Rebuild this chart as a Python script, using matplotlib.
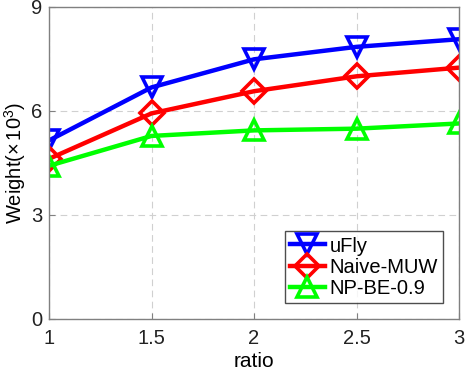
import matplotlib
matplotlib.use("Agg")
import matplotlib.pyplot as plt

ratio = [1, 1.5, 2, 2.5, 3]
ufly = [5.15, 6.68, 7.49, 7.85, 8.07]
naive_muw = [4.62, 5.93, 6.57, 7.0, 7.25]
np_be = [4.42, 5.28, 5.44, 5.49, 5.64]
xticks = [1, 1.5, 2, 2.5, 3]
xticklabels = ["1", "1.5", "2", "2.5", "3"]
yticks = [0, 3, 6, 9]

plt.rcParams['font.family'] = ['Liberation Sans', 'DejaVu Sans']
plt.rcParams['mathtext.fontset'] = 'custom'
plt.rcParams['mathtext.rm'] = 'Liberation Sans'
plt.rcParams['mathtext.it'] = 'Liberation Sans'

fig = plt.figure(figsize=(4.74, 3.73), dpi=100)
ax = fig.add_axes([0.1034, 0.1448, 0.8650, 0.8365])

kw = dict(linewidth=3.2, markersize=15, markeredgewidth=2.6, markerfacecolor='none')
ax.plot(ratio, ufly, color='#0000ff', marker='v', label='uFly', **kw)
ax.plot(ratio, naive_muw, color='#ff0000', marker='D', label='Naive-MUW', **dict(kw, markersize=12))
ax.plot(ratio, np_be, color='#00ff00', marker='^', label='NP-BE-0.9', **kw)

ax.set_xlim(1, 3)
ax.set_ylim(0, 9)
ax.set_xticks(xticks)
ax.set_xticklabels(xticklabels)
ax.set_yticks(yticks)
ax.grid(True, linestyle=(0, (6, 4)), color='#d0d0d0', linewidth=0.8)
ax.set_axisbelow(True)
for s in ax.spines.values():
    s.set_color('#808080')
    s.set_linewidth(1.0)
ax.tick_params(direction='in', length=4, color='#808080', labelsize=14.5, pad=7)
ax.tick_params(axis='y', pad=5)
for lab in ax.get_xticklabels() + ax.get_yticklabels():
    lab.set_color('#222222')
ax.set_xlabel('ratio', fontsize=15, labelpad=3)
ax.set_ylabel(r'Weight($\times\,10^3$)', fontsize=14.5, labelpad=2)

leg = ax.legend(loc='lower right', bbox_to_anchor=(0.961, 0.05), fontsize=14.5, frameon=True,
                fancybox=False, edgecolor='#222222', handlelength=1.7, handletextpad=0.25,
                borderpad=0.25, labelspacing=0.12, borderaxespad=0)
leg.get_frame().set_linewidth(1.0)

fig.savefig('out.png', dpi=100)
